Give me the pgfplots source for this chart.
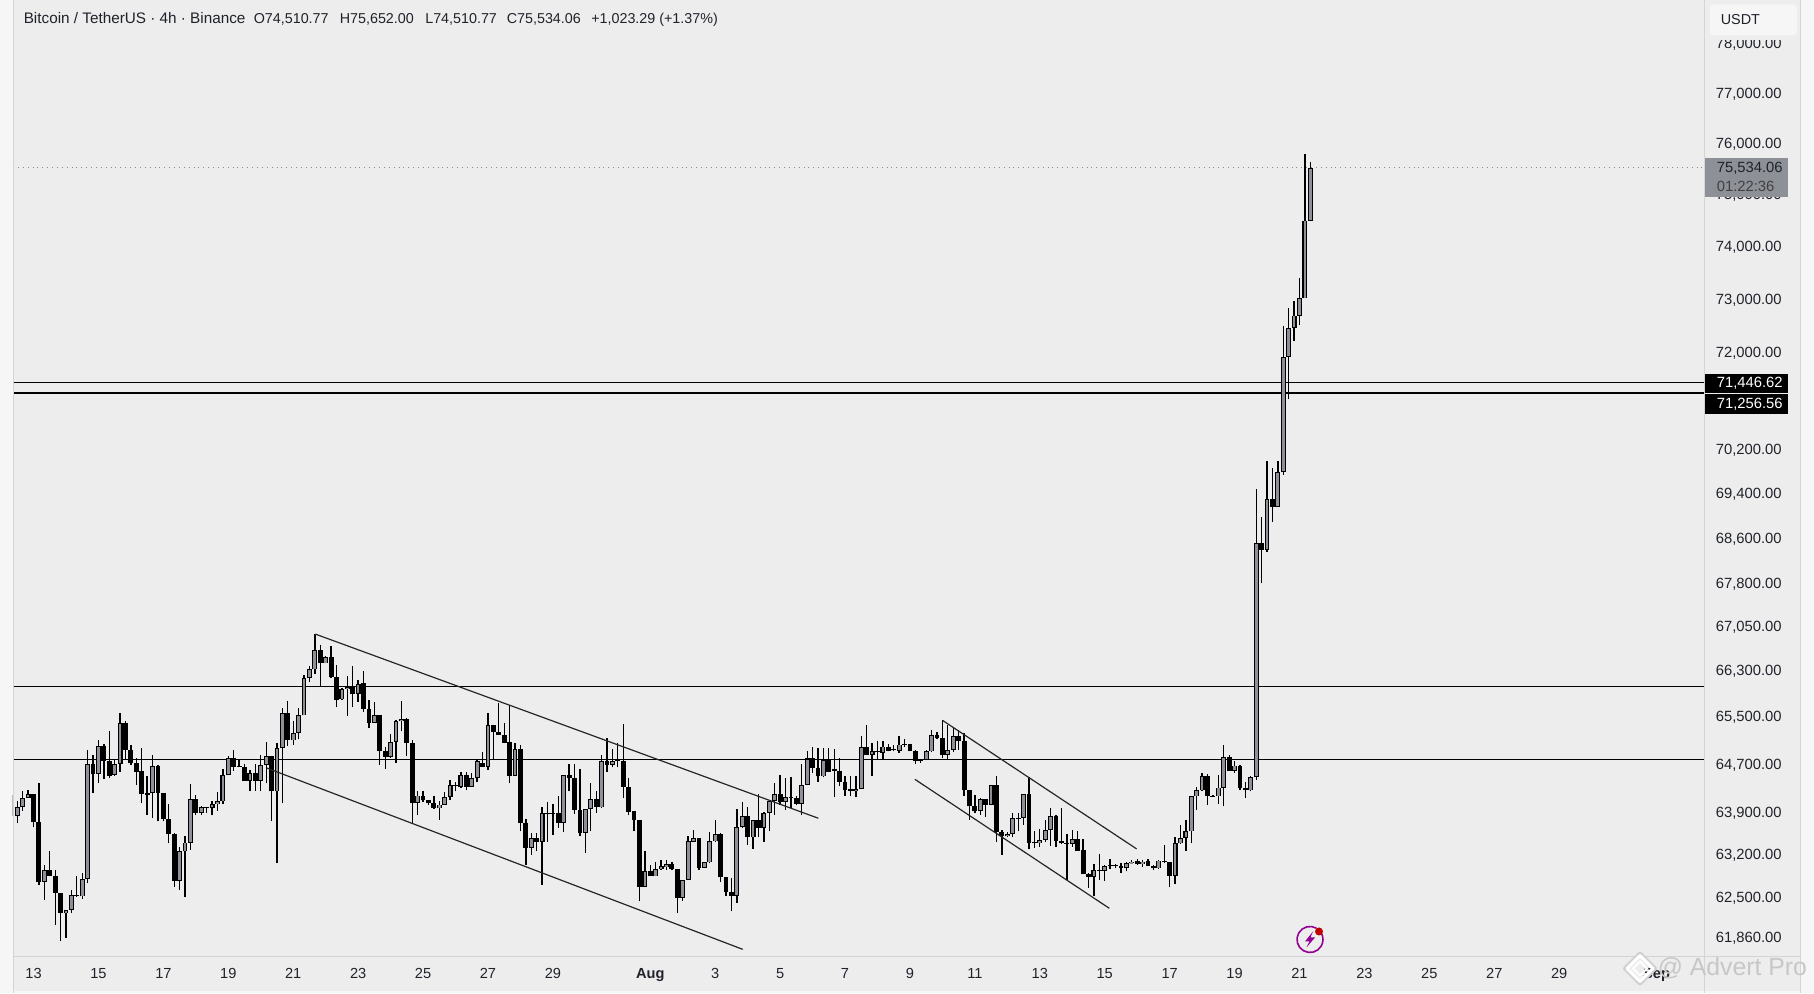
\documentclass[border=0pt]{standalone}
\usepackage{pgfplots}
\usepackage{pgfplotstable}
\usepackage{fontspec}
\setmainfont{Liberation Sans}
\pgfplotsset{compat=1.18}
\definecolor{pane}{HTML}{EDEDED}
\definecolor{margin}{HTML}{F6F6F6}
\definecolor{upc}{HTML}{8E9097}
\definecolor{txt}{HTML}{20222A}
\definecolor{sep}{HTML}{D4D4D6}
% columns: candle index, high, low, body top, body bottom
\pgfplotstableread{
i h l t b
0 64094 63735 63999 63861
1 64271 63943 64149 63999
2 64277 64149 64215 64149
5 63050 62480 62956 62778
9 62318 61873 62313 62265
10 62642 62265 62555 62313
11 62859 62523 62555 62534
12 62914 62491 62816 62534
13 64958 62751 64722 62816
15 65115 64399 65019 64549
18 64790 64511 64717 64532
19 65579 64594 65409 64717
25 64874 63817 64683 64232
30 63350 62642 63268 62793
31 63515 62518 63416 63268
32 64376 63295 64132 63416
34 64011 63872 63999 63911
35 63999 63911 63999 63983
36 64094 63872 64049 63983
37 64248 63943 64099 64049
38 64638 64054 64532 64094
39 64857 64532 64812 64532
41 64790 64666 64689 64672
43 64622 64260 64566 64443
45 64874 64260 64700 64443
46 65087 64399 64851 64700
48 65070 63077 64986 64260
49 65664 64066 65579 64986
51 65437 65042 65240 65115
52 65664 65138 65538 65240
53 66234 65538 66177 65538
54 66377 66107 66331 66177
55 66940 66250 66658 66331
57 66561 66428 66537 66428
60 66005 65806 65988 65817
61 66205 65533 66022 65988
63 66148 65777 66079 65902
66 65765 65420 65544 65420
69 65227 64818 65087 64834
70 65466 64745 65437 65087
71 65789 65268 65477 65437
74 64260 63872 64193 64066
78 64094 63790 64043 63977
79 64248 64038 64165 64043
80 64455 64110 64365 64165
81 64410 64260 64371 64354
82 64594 64316 64538 64343
84 64566 64332 64487 64343
85 64801 64410 64762 64483
87 65579 64622 65375 64678
92 65070 64521 64969 64526
95 63570 63213 63487 63323
97 63999 62724 63900 63421
98 64082 63432 63905 63889
99 64054 63542 63905 63889
101 64538 63580 64538 63735
105 63966 63241 63966 63570
106 64399 63597 64132 63966
108 64874 63983 64773 63999
110 64974 64666 64773 64711
111 65070 64666 64784 64767
116 63284 62685 62946 62685
118 63104 62859 62979 62859
119 63131 62968 63027 62979
120 63131 62968 63060 63011
123 62805 62469 62800 62507
124 63525 62800 63437 62800
125 63624 63432 63487 63432
127 63098 62995 63088 63006
128 63580 63077 63437 63088
129 63778 63426 63558 63437
133 63966 62437 63668 62540
134 64077 63662 63856 63668
136 63790 63311 63784 63503
138 63928 63432 63900 63662
139 64121 63597 64105 63900
140 64399 63872 64215 64105
142 64483 63955 64165 64082
143 64500 63983 64171 64154
145 64722 63872 64365 64049
146 64930 64365 64812 64365
149 64986 64500 64784 64511
151 64974 64165 64633 64610
155 64511 64160 64299 64265
156 65183 64299 65002 64299
158 65070 64511 64935 64879
159 65098 64790 64930 64913
160 65098 64790 65014 64902
162 65042 64930 64969 64952
163 65183 64902 65047 64946
164 65138 65014 65064 65047
168 64958 64778 64930 64790
169 65296 64913 65205 64930
172 65381 64801 64958 64874
173 65340 64913 65183 64958
178 64149 63872 64132 63943
180 64365 64032 64365 64043
183 63580 63503 63563 63515
184 63900 63503 63817 63563
185 63900 63597 63828 63811
186 64220 63707 64220 63822
189 63635 63350 63455 63405
190 63778 63432 63624 63455
191 63983 63361 63850 63624
194 63553 62805 63416 63394
195 63624 63350 63470 63394
199 63066 62534 62962 62848
200 63230 62805 62968 62951
201 63050 62793 63027 62951
202 63148 62979 63044 63027
203 63066 62995 63044 63027
205 63104 62941 63077 62995
206 63131 63066 63104 63071
208 63131 63011 63104 63066
211 63131 62979 63120 62990
214 63503 62740 63400 62875
215 63707 63394 63487 63400
216 63778 63284 63597 63487
217 64193 63416 64182 63597
218 64343 63955 64277 64177
219 64572 64260 64511 64277
222 64538 64054 64327 64177
223 65042 64011 64834 64327
225 64762 64566 64695 64610
228 64511 64260 64500 64277
229 69502 64455 68535 64500
231 70001 68386 69322 68404
233 70019 69178 69808 69178
234 72496 69760 71922 69808
235 72842 71143 72466 71922
236 72968 72214 72697 72466
237 73412 72510 73032 72697
238 75817 73032 74510.77 73032
239 75652 74510.77 75534.06 74510.77
}\upcandles
\pgfplotstableread{
i h l t b
-1 64205 63861 64205 63861
3 64220 63668 64220 63750
4 64399 62724 63750 62778
6 63284 62875 62956 62875
7 62968 62077 62875 62588
8 62588 61808 62588 62265
14 64874 64232 64722 64549
16 65059 64466 65019 64767
17 65268 64483 64767 64526
20 65437 64790 65409 64952
21 65042 64706 64952 64728
22 64818 64371 64728 64594
23 64986 64066 64599 64220
24 64511 63872 64232 64210
26 64706 63762 64683 64243
27 64243 63762 64243 63801
28 64054 63405 63801 63553
29 63570 62696 63553 62793
33 64205 63872 64132 63911
40 64958 64610 64818 64678
42 64722 64443 64678 64443
44 64722 64271 64566 64443
47 64851 63762 64851 64260
50 65789 65025 65579 65115
56 66751 66034 66658 66428
58 66722 66177 66537 66193
59 66406 65692 66193 65806
62 66377 65692 66034 65896
64 66302 65607 66096 65647
65 65806 65335 65647 65420
67 65550 64706 65544 64930
68 65014 64638 64930 64834
72 65494 64846 65477 65070
73 65127 63723 65070 64066
75 64271 64077 64193 64110
76 64121 64038 64110 64066
77 64177 63966 64066 63977
83 64594 64277 64538 64343
86 64913 64666 64745 64678
88 65375 64790 65375 65256
89 65749 65211 65256 65211
90 65420 65070 65211 65081
91 65721 64399 65092 64526
93 65042 63597 64974 63735
94 63801 63050 63735 63323
96 63570 63284 63487 63421
100 64177 63652 63900 63735
102 64722 64260 64538 64477
103 64717 63883 64477 63955
104 64633 63515 63955 63570
107 64260 63900 64132 63999
109 65155 64594 64773 64711
112 65397 64149 64773 64343
113 64483 63872 64343 63928
114 63939 63597 63939 63778
115 63790 62453 63790 62685
117 63050 62859 62946 62859
121 63104 62956 63060 62979
122 62979 62265 62979 62507
126 63487 62968 63487 62995
130 63570 62778 63558 62843
131 62848 62534 62848 62604
132 62832 62291 62604 62540
135 63999 63377 63856 63503
137 64220 63503 63784 63662
141 64538 64038 64215 64077
144 64177 64027 64149 64049
147 65014 64566 64812 64650
148 64986 64427 64650 64511
150 64986 64594 64784 64594
152 64818 64354 64610 64427
153 64521 64193 64427 64288
154 64511 64177 64299 64265
157 65381 64874 65002 64879
161 65059 64930 65014 64935
165 65059 64930 65059 64930
166 64958 64722 64930 64762
167 64801 64745 64790 64767
170 65251 65138 65205 65149
171 65453 64818 65155 64874
174 65296 64958 65183 65098
175 65240 64188 65109 64277
176 64288 63790 64277 64011
177 64205 63911 64011 63939
179 64132 63845 64132 64043
181 64511 63421 64365 63585
182 63624 63213 63585 63515
187 64500 63306 64220 63416
188 63597 63323 63427 63405
192 63872 63339 63850 63449
193 63983 63394 63449 63405
196 63613 63284 63470 63284
197 63465 62897 63295 62897
198 62914 62680 62897 62848
204 63077 62914 63038 62990
207 63148 63050 63110 63060
209 63142 63033 63110 63038
210 63050 62956 63038 62990
212 63377 63077 63120 63088
213 63104 62685 63098 62875
220 64544 64038 64511 64177
221 64205 64165 64188 64171
224 64874 64610 64834 64610
226 64706 64277 64695 64316
227 64410 64149 64316 64282
230 68992 67827 68535 68416
232 69881 68902 69322 69178
}\downcandles
\begin{document}
\begin{tikzpicture}
\begin{scope}[x=0.25pt,y=-0.25pt,shift={(-3.25pt,239pt)}]
\path[use as bounding box] (0,0) rectangle (1814,993);
\fill[margin] (0,0) rectangle (1814,993);
\fill[pane] (13,0) rectangle (1800,991);
\end{scope}
\begin{axis}[
  scale only axis, width=422.75pt, height=239pt,
  ymode=log, clip=true,
  xmin=-0.795, xmax=311.77, ymin=61576.6, ymax=78907,
  axis line style={draw=none}, major tick length=0pt, minor tick length=0pt,
  xtick={3,15,27,39,51,63,75,87,99,117,129,141,153,165,177,189,201,213,225,237,249,261,273,285,303},
  xticklabels={13,15,17,19,21,23,25,27,29,\textbf{Aug},3,5,7,9,11,13,15,17,19,21,23,25,27,29,\textbf{Sep}},
  xticklabel style={font=\fontsize{3.65}{4}\selectfont, text=txt, anchor=base, inner sep=0pt, yshift=-5.6pt},
  yticklabel pos=right,
  ytick={61860,62500,63200,63900,64700,65500,66300,67050,67800,68600,69400,70200,72000,73000,74000,75000,76000,77000,78000},
  yticklabels={{61,860.00},{62,500.00},{63,200.00},{63,900.00},{64,700.00},{65,500.00},{66,300.00},{67,050.00},{67,800.00},{68,600.00},{69,400.00},{70,200.00},{72,000.00},{73,000.00},{74,000.00},{75,000.00},{76,000.00},{77,000.00},{78,000.00}},
  yticklabel style={font=\fontsize{3.7}{4}\selectfont, text=txt, anchor=west, inner sep=0pt, xshift=2.75pt},
  every axis plot/.append style={forget plot},
]
% horizontal levels and price line
\addplot[densely dotted, color=black!45, line width=0.22pt] coordinates {(-0.795,75534.06) (311.77,75534.06)};
\addplot[black, line width=0.3pt] coordinates {(-0.795,71446.62) (311.77,71446.62)};
\addplot[black, line width=0.3pt] coordinates {(-0.795,71256.56) (311.77,71256.56)};
\addplot[black, line width=0.3pt] coordinates {(-0.795,66038) (311.77,66038)};
\addplot[black, line width=0.3pt] coordinates {(-0.795,64792) (311.77,64792)};
% wicks
\addplot[draw=none, mark=none, error bars/.cd, y dir=plus, y explicit, error mark=none, error bar style={black, line width=0.33pt}]
  table[x=i, y=l, y error plus expr=\thisrow{h}-\thisrow{l}] {\upcandles};
\addplot[draw=none, mark=none, error bars/.cd, y dir=plus, y explicit, error mark=none, error bar style={black, line width=0.33pt}]
  table[x=i, y=l, y error plus expr=\thisrow{h}-\thisrow{l}] {\downcandles};
% black bodies
\addplot[draw=none, mark=none, error bars/.cd, y dir=plus, y explicit, error mark=none, error bar style={black, line width=1.22pt}]
  table[x=i, y=b, y error plus expr=\thisrow{t}-\thisrow{b}] {\downcandles};
\addplot[draw=none, mark=none, error bars/.cd, y dir=plus, y explicit, error mark=none, error bar style={black, line width=1.22pt}]
  table[x=i, y=b, y error plus expr=\thisrow{t}-\thisrow{b}] {\upcandles};
% gray fill of the up bodies
\addplot[draw=none, mark=none, error bars/.cd, y dir=both, y explicit, error mark=none, error bar style={upc, line width=0.68pt}]
  table[x=i, y expr=(\thisrow{t}+\thisrow{b})/2, y error expr={max(0,(\thisrow{t}-\thisrow{b})/2-14)}] {\upcandles};
% trend lines
\addplot[black!85, line width=0.3pt] coordinates {(55.08,66941) (148.06,63816)};
\addplot[black!85, line width=0.3pt] coordinates {(46.1,64654) (134.08,61684)};
\addplot[black!85, line width=0.3pt] coordinates {(171.05,65452) (206.9,63309)};
\addplot[black!85, line width=0.3pt] coordinates {(165.9,64465) (201.85,62343)};
\end{axis}
\begin{scope}[x=0.25pt,y=-0.25pt,shift={(-3.25pt,239pt)}, every node/.style={inner sep=0pt, text=txt}]
\draw[sep, line width=0.25pt] (13,956.5) -- (1800,956.5);
\draw[sep, line width=0.25pt] (1704.5,0) -- (1704.5,993);
\draw[sep, line width=0.25pt] (1800.5,0) -- (1800.5,993);
\draw[sep, line width=0.25pt] (13,0) -- (13,993);
% price boxes
\fill[upc] (1705,158) rectangle (1788,196.5);
\node[anchor=west, font=\fontsize{3.7}{4}\selectfont] at (1716,168) {75,534.06};
\node[anchor=west, font=\fontsize{3.7}{4}\selectfont, text=black!75] at (1716,186) {01:22:36};
\fill[black] (1705,374) rectangle (1788,392.5);
\fill[black] (1705,394) rectangle (1788,414);
\node[anchor=west, font=\fontsize{3.7}{4}\selectfont, text=white] at (1716,383) {71,446.62};
\node[anchor=west, font=\fontsize{3.7}{4}\selectfont, text=white] at (1716,403.5) {71,256.56};
\fill[pane] (1705,0) rectangle (1800,40);
\fill[margin, rounded corners=0.75pt] (1710,4) rectangle (1797,35);
\node[anchor=west, font=\fontsize{3.6}{4}\selectfont] at (1720,19) {USDT};
% header
\begin{scope}[every node/.append style={anchor=base west, font=\fontsize{3.58}{4}\selectfont}]
\node[font=\fontsize{3.82}{4}\selectfont] at (23,23.5) {Bitcoin / TetherUS · 4h · Binance};
\node at (253,23.5) {O74,510.77};
\node at (339,23.5) {H75,652.00};
\node at (424.5,23.5) {L74,510.77};
\node at (506,23.5) {C75,534.06};
\node at (590.5,23.5) {+1,023.29 (+1.37\%)};
\end{scope}
% lightning icon
\draw[color=violet!85!magenta, line width=0.4pt] (1310,939) ++(-60:13) arc[start angle=-60, end angle=-390, radius=13];
\fill[color=violet!85!magenta] (1313,931) -- (1305,941) -- (1309.5,941) -- (1306.5,947) -- (1315,937) -- (1310.5,937) -- cycle;
\fill[red!75!black] (1319,931) circle (4);
% watermark
\draw[black!18, line width=1pt, line join=round] (1640,953) -- (1655,968) -- (1640,983) -- (1625,968) -- cycle;
\draw[white, line width=0.75pt, line join=round] (1640,955) -- (1653,968) -- (1640,981) -- (1627,968) -- cycle;
\draw[white, line width=0.5pt] (1640,961) -- (1647,968) -- (1640,975) -- (1633,968) -- cycle;
\node[anchor=west, font=\fontsize{6.2}{7}\selectfont, text=black!22] at (1657,968) {@ Advert Pro};
\end{scope}
\end{tikzpicture}
\end{document}
